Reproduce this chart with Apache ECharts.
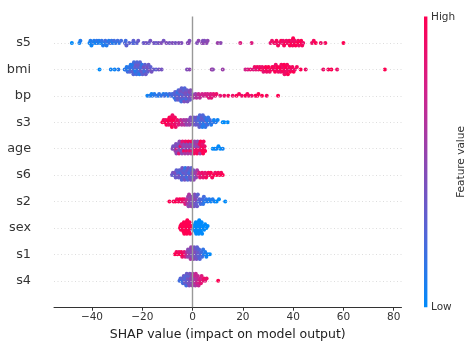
<!DOCTYPE html>
<html>
<head>
<meta charset="utf-8">
<script src="https://cdn.jsdelivr.net/npm/echarts@6/dist/echarts.min.js"></script>
<style>
  html, body { margin: 0; padding: 0; background: #fff; }
  #chart { width: 474px; height: 347px; }
</style>
</head>
<body>
<div id="chart"></div>
<script>
// Features from bottom row to top row
const featureNames = ['s4', 's1', 'sex', 's2', 's6', 'age', 's3', 'bp', 'bmi', 's5'];

// Each entry: [SHAP value, normalised feature value (0 = low, 1 = high)]
const shapS5 = [
  [-48, 0], [-45, 0.05], [-44.6, 0.1],
  [-41, 0.05], [-40.6, 0.1], [-40.2, 0.05], [-39.6, 0.1], [-39.2, 0.1], [-38.6, 0.05], [-38.1, 0.15], [-37.7, 0.1],
  [-37.2, 0.1], [-36.6, 0.05], [-36.1, 0.15], [-35.6, 0.1], [-35.2, 0.1], [-34.7, 0.2], [-34.2, 0.1], [-33.7, 0.15],
  [-33.3, 0.1], [-32.7, 0.2], [-32.2, 0.15], [-31.7, 0.1], [-31.2, 0.2], [-30.6, 0.15], [-29.8, 0.2], [-29.2, 0.15],
  [-28.4, 0.2],
  [-26.9, 0.25], [-26.6, 0.2], [-26.3, 0.3], [-25.2, 0.3], [-23.8, 0.25], [-23.5, 0.3], [-23.2, 0.25], [-22.1, 0.3],
  [-21.6, 0.35],
  [-19.5, 0.35], [-18.5, 0.4], [-17.4, 0.35], [-16.8, 0.4], [-15.4, 0.4], [-14.5, 0.35], [-13.5, 0.4], [-12.4, 0.45],
  [-11.5, 0.4], [-10.4, 0.45], [-9.2, 0.4], [-8, 0.45], [-6.8, 0.4], [-5.5, 0.45], [-4.4, 0.45],
  [-1.9, 0.45], [-1.5, 0.5], [-1.2, 0.45], [1.8, 0.45], [2.4, 0.5], [3.8, 0.5], [4.1, 0.45], [4.4, 0.5], [4.7, 0.45],
  [5.6, 0.5], [6, 0.5], [10, 0.55], [11.2, 0.5], [19, 0.8], [23.5, 0.8],
  [31, 0.85], [31.6, 0.9], [32.5, 0.95], [33, 0.9], [33.4, 0.95], [34, 0.95], [34.4, 0.9], [35.2, 1], [35.6, 0.9],
  [36, 0.9], [36.4, 0.95], [37, 1], [37.3, 0.9], [37.8, 0.9], [38.4, 0.95], [38.7, 1], [39, 1], [39.4, 0.9],
  [39.8, 0.95], [40, 1], [40.3, 0.95], [40.6, 0.9], [41, 1], [41.5, 1], [42, 0.95], [42.3, 0.9], [42.7, 1],
  [43.2, 1], [43.6, 0.95], [44, 0.9],
  [47.5, 0.9], [48.2, 0.95], [49, 1], [51, 0.9], [52.8, 0.95], [60, 1]
];
const shapBmi = [
  [-37, 0], [-32.5, 0.05], [-31, 0.05], [-29.5, 0.1],
  [-27, 0.1], [-26.6, 0.15], [-26.2, 0.1], [-25.8, 0.2], [-25.5, 0.1], [-25.2, 0.15],
  [-24.9, 0.25], [-24.6, 0.1], [-24.4, 0.2], [-24.1, 0.15],
  [-23.9, 0.3], [-23.7, 0.1], [-23.5, 0.25], [-23.3, 0.2], [-23.1, 0.15],
  [-22.9, 0.3], [-22.7, 0.1], [-22.5, 0.35], [-22.3, 0.2], [-22.1, 0.25],
  [-21.9, 0.15], [-21.7, 0.3], [-21.5, 0.2], [-21.3, 0.35], [-21.1, 0.1],
  [-20.9, 0.25], [-20.7, 0.3], [-20.5, 0.2], [-20.3, 0.35], [-20.1, 0.15],
  [-19.9, 0.3], [-19.6, 0.25], [-19.4, 0.4], [-19.1, 0.2],
  [-18.9, 0.3], [-18.6, 0.35], [-18.4, 0.25], [-18.1, 0.4],
  [-17.8, 0.3], [-17.5, 0.35], [-17.2, 0.4], [-16.7, 0.3], [-16.3, 0.4],
  [-15.5, 0.35], [-14.5, 0.3], [-13.4, 0.4], [-12.3, 0.4],
  [-2.2, 0.45], [-1.2, 0.5], [7.6, 0.55], [8.1, 0.5], [12, 0.55],
  [21, 0.75], [22, 0.8], [23, 0.85], [24.2, 0.8], [24.7, 0.9], [25.2, 0.85], [25.7, 0.95], [26.2, 0.85], [26.7, 0.9],
  [27.2, 1], [27.7, 0.9], [28.2, 0.85], [28.7, 0.95], [29.1, 1], [29.5, 0.9], [29.8, 0.95], [30.2, 1], [30.7, 0.9],
  [31.2, 0.95], [31.7, 1], [32.1, 0.9], [32.4, 0.95], [32.8, 1], [33.1, 0.9], [33.4, 0.95], [33.8, 1], [34.1, 0.9],
  [34.4, 0.95], [34.8, 1], [35.1, 0.9], [35.3, 0.95], [35.6, 1], [35.9, 0.9], [36.1, 0.95], [36.4, 1], [36.6, 0.9],
  [36.9, 0.95], [37.1, 1], [37.4, 0.9], [37.6, 0.95], [37.9, 1], [38.2, 0.9], [38.5, 0.95], [38.8, 1], [39.3, 0.9],
  [39.7, 0.95], [40.2, 1], [40.7, 0.9], [41.5, 0.95], [43, 1], [45, 0.9],
  [52, 0.9], [54, 0.95], [55.2, 1], [57.5, 0.9], [76.5, 1]
];
const shapBp = [
  [-18, 0.05], [-17, 0.1], [-16.3, 0.05], [-16, 0.1], [-15.2, 0.1], [-14.5, 0.15], [-13.6, 0.1], [-13.3, 0.15],
  [-12.5, 0.15], [-11.6, 0.1], [-11.2, 0.2], [-10.5, 0.15], [-9.8, 0.1], [-9.2, 0.2], [-8.6, 0.25], [-8.1, 0.2],
  [-7.8, 0.2], [-7.5, 0.25], [-7.2, 0.15],
  [-6.9, 0.3], [-6.7, 0.2], [-6.5, 0.35], [-6.3, 0.25], [-6.1, 0.3],
  [-5.9, 0.15], [-5.75, 0.35], [-5.6, 0.25], [-5.4, 0.4], [-5.25, 0.2], [-5.1, 0.3],
  [-4.95, 0.35], [-4.8, 0.25], [-4.65, 0.4], [-4.5, 0.2], [-4.35, 0.3], [-4.2, 0.45], [-4.05, 0.25],
  [-3.9, 0.35], [-3.75, 0.4], [-3.6, 0.2], [-3.45, 0.3], [-3.3, 0.45], [-3.15, 0.25], [-3, 0.35],
  [-2.85, 0.4], [-2.7, 0.3], [-2.5, 0.45], [-2.3, 0.2], [-2.15, 0.35], [-2, 0.4],
  [-1.8, 0.45], [-1.6, 0.3], [-1.4, 0.4], [-1.2, 0.5], [-1, 0.35],
  [-0.8, 0.45], [-0.5, 0.5], [-0.2, 0.4],
  [0.3, 0.55], [0.8, 0.6], [1.2, 0.55], [1.6, 0.65], [2, 0.6], [2.4, 0.7], [2.9, 0.65], [3.3, 0.7], [3.8, 0.75],
  [4.4, 0.7], [5, 0.75], [5.5, 0.8], [6, 0.75], [6.5, 0.8], [6.9, 0.75], [7.2, 0.8], [7.5, 0.85], [7.9, 0.8],
  [8.3, 0.85], [9, 0.85], [9.5, 0.9],
  [11, 0.85], [12.6, 0.9], [14.2, 0.95], [16, 0.9], [17.5, 1], [18.5, 0.95], [19.6, 0.9], [21, 1], [21.8, 0.95],
  [22.3, 0.9], [23.5, 0.9], [25, 1], [25.8, 0.95], [26.2, 1], [27.6, 1], [29.5, 0.95], [34, 1]
];
const shapS3 = [
  [-12, 1], [-11.5, 0.95], [-11, 1], [-10.7, 0.9], [-10.4, 1], [-10.1, 0.95],
  [-9.8, 1], [-9.5, 0.9], [-9.2, 1], [-9, 0.95], [-8.8, 1], [-8.6, 0.9], [-8.4, 0.95], [-8.2, 1], [-8, 0.9],
  [-7.8, 0.95], [-7.5, 1], [-7.2, 0.9], [-7, 0.95], [-6.7, 0.9], [-6.4, 0.85], [-6.1, 0.9], [-5.6, 0.8], [-5.2, 0.85],
  [-4.7, 0.7], [-4.3, 0.65], [-3.8, 0.7], [-3.5, 0.6], [-3.2, 0.65], [-2.8, 0.55], [-2.5, 0.6], [-2.2, 0.5],
  [-1.8, 0.55], [-1.5, 0.5], [-1.2, 0.55], [-0.8, 0.45], [-0.5, 0.5], [-0.2, 0.45],
  [0.2, 0.4], [0.5, 0.35], [0.8, 0.4], [1.1, 0.3], [1.3, 0.35], [1.6, 0.4], [1.8, 0.3],
  [2.1, 0.25], [2.3, 0.35], [2.5, 0.2], [2.7, 0.3], [2.9, 0.25], [3.1, 0.15], [3.3, 0.3], [3.5, 0.2], [3.7, 0.35],
  [3.9, 0.1], [4.1, 0.25], [4.3, 0.15], [4.5, 0.3], [4.7, 0.1], [4.9, 0.2], [5.1, 0.15], [5.4, 0.25], [5.6, 0.1],
  [5.9, 0.2], [6.2, 0.15], [6.6, 0.1], [6.9, 0.2], [7.4, 0.1], [7.9, 0.15], [8.5, 0.05], [9.2, 0.1], [10, 0.05],
  [12, 0], [12.6, 0], [14, 0]
];
const shapAge = [
  [-8, 0.45], [-7.7, 0.4], [-7.3, 0.5], [-7, 0.4], [-6.8, 0.55],
  [-6.6, 0.45], [-6.4, 0.5], [-6.2, 0.8], [-6, 0.45], [-5.8, 0.5],
  [-5.6, 0.4], [-5.4, 0.85], [-5.2, 0.5], [-5, 0.45], [-4.8, 0.9],
  [-4.6, 0.45], [-4.4, 0.6], [-4.2, 0.5], [-4, 0.85], [-3.8, 0.45],
  [-3.6, 0.55], [-3.4, 0.95], [-3.2, 0.5], [-3, 0.6], [-2.8, 0.9],
  [-2.6, 0.45], [-2.4, 0.55], [-2.2, 0.9], [-2, 0.5], [-1.8, 0.6],
  [-1.6, 0.95], [-1.4, 0.5], [-1.2, 0.55], [-1, 0.9], [-0.8, 0.45],
  [-0.6, 0.6], [-0.4, 0.95], [-0.2, 0.5], [0, 0.55], [0.2, 0.9],
  [0.4, 0.5], [0.6, 0.95], [0.8, 0.55], [1, 0.9], [1.2, 0.45],
  [1.4, 0.9], [1.6, 0.6], [1.8, 0.95], [2, 0.5], [2.2, 0.85],
  [2.4, 0.55], [2.6, 0.95], [2.8, 0.9], [3, 0.6], [3.2, 1],
  [3.4, 0.9], [3.6, 0.95], [3.8, 1], [4, 0.85], [4.2, 1],
  [4.4, 0.95], [4.6, 1], [4.8, 0.9], [5, 1],
  [8, 0], [8.8, 0], [9.5, 0.05], [10.3, 0], [11, 0], [12, 0.05]
];
const shapS6 = [
  [-8.2, 0.35], [-7.8, 0.4], [-7.4, 0.3], [-7, 0.45], [-6.7, 0.35],
  [-6.4, 0.3], [-6.1, 0.4], [-5.8, 0.25], [-5.5, 0.35],
  [-5.3, 0.3], [-5.1, 0.45], [-4.9, 0.2], [-4.7, 0.35], [-4.5, 0.3],
  [-4.3, 0.25], [-4.1, 0.4], [-3.9, 0.2], [-3.7, 0.35], [-3.5, 0.3],
  [-3.3, 0.25], [-3.1, 0.4], [-2.9, 0.15], [-2.7, 0.35], [-2.5, 0.3],
  [-2.3, 0.2], [-2.1, 0.35], [-1.9, 0.25], [-1.7, 0.4], [-1.5, 0.3],
  [-1.3, 0.2], [-1.1, 0.35], [-0.9, 0.25], [-0.7, 0.4], [-0.5, 0.3],
  [-0.3, 0.35], [-0.1, 0.45], [0.1, 0.3], [0.3, 0.4], [0.5, 0.5],
  [0.8, 0.45], [1.1, 0.55], [1.4, 0.5], [1.8, 0.6],
  [2.2, 0.75], [2.6, 0.8], [3, 0.85], [3.4, 0.8], [3.8, 0.9], [4.2, 0.85], [4.6, 0.9], [5, 0.85], [5.4, 0.95],
  [5.8, 0.9], [6.3, 0.95], [6.8, 0.9], [7.3, 1], [7.8, 0.95], [8.4, 1], [9, 0.9], [9.6, 1], [10.2, 0.95],
  [10.8, 1], [11.4, 0.95], [12, 1]
];
const shapS2 = [
  [-9.2, 1], [-7.6, 0.95], [-6.8, 1], [-6.2, 0.9], [-5.6, 0.95], [-5.1, 1], [-4.6, 0.9], [-4.1, 0.95], [-3.7, 0.85],
  [-3.3, 0.9], [-2.9, 0.8], [-2.6, 0.75], [-2.3, 0.7],
  [-2, 0.6], [-1.8, 0.55], [-1.6, 0.5], [-1.4, 0.6], [-1.2, 0.5],
  [-1, 0.55], [-0.8, 0.45], [-0.6, 0.5], [-0.4, 0.55], [-0.2, 0.45],
  [0, 0.5], [0.2, 0.45], [0.4, 0.5], [0.6, 0.4], [0.8, 0.45],
  [1, 0.4], [1.2, 0.5], [1.4, 0.35], [1.6, 0.4], [1.8, 0.35],
  [2.1, 0.3], [2.4, 0.25], [2.8, 0.3], [3.2, 0.2], [3.5, 0.25], [3.9, 0.2], [4.2, 0.15], [4.5, 0.2], [4.9, 0.1],
  [5.4, 0.15], [6, 0.1], [6.6, 0.1], [7.3, 0.05], [8, 0.1], [8.8, 0.05], [9.6, 0], [10.5, 0], [13, 0]
];
const shapSex = [
  [-5, 1], [-4.8, 1], [-4.6, 1], [-4.4, 1], [-4.2, 1], [-4.05, 1], [-3.9, 1], [-3.75, 1], [-3.6, 1], [-3.45, 1],
  [-3.3, 1], [-3.15, 1], [-3, 1], [-2.85, 1], [-2.7, 1], [-2.55, 1], [-2.4, 1], [-2.25, 1], [-2.1, 1], [-1.95, 1],
  [-1.8, 1], [-1.65, 1], [-1.5, 1], [-1.35, 1], [-1.2, 1], [-1, 1], [-0.8, 1], [-0.5, 1],
  [0.3, 0], [0.5, 0], [0.7, 0], [0.85, 0], [1, 0], [1.15, 0], [1.3, 0], [1.45, 0], [1.6, 0], [1.75, 0], [1.9, 0],
  [2.05, 0], [2.2, 0], [2.35, 0], [2.5, 0], [2.65, 0], [2.8, 0], [2.95, 0], [3.1, 0], [3.25, 0], [3.4, 0], [3.6, 0],
  [3.8, 0], [4, 0], [4.3, 0], [4.6, 0], [5, 0], [5.5, 0], [6, 0]
];
const shapS1 = [
  [-7, 1], [-6.4, 0.95], [-6, 1], [-5.4, 0.9], [-4.9, 1], [-4.5, 0.95], [-4.1, 0.9], [-3.7, 1], [-3.3, 0.85],
  [-2.9, 0.8], [-2.5, 0.75],
  [-2.2, 0.6], [-2, 0.55], [-1.8, 0.5], [-1.6, 0.6], [-1.4, 0.5],
  [-1.2, 0.5], [-1, 0.45], [-0.8, 0.6], [-0.6, 0.55], [-0.4, 0.45],
  [-0.2, 0.5], [0, 0.45], [0.2, 0.55], [0.4, 0.5], [0.6, 0.4],
  [0.8, 0.45], [1, 0.45], [1.2, 0.4], [1.4, 0.35], [1.6, 0.4],
  [1.8, 0.3], [2, 0.3], [2.2, 0.35], [2.4, 0.3], [2.6, 0.25],
  [2.9, 0.25], [3.2, 0.3], [3.5, 0.2], [3.8, 0.2],
  [4.2, 0.15], [4.6, 0.1], [5, 0.1], [5.5, 0.05], [6, 0.05], [6.9, 0]
];
const shapS4 = [
  [-5.2, 0.2], [-4.8, 0.25], [-4.4, 0.15], [-4.1, 0.3], [-3.8, 0.2], [-3.5, 0.35], [-3.3, 0.3], [-3.1, 0.25],
  [-2.9, 0.35], [-2.7, 0.25], [-2.5, 0.2], [-2.3, 0.35], [-2.1, 0.3], [-1.9, 0.4], [-1.7, 0.4], [-1.5, 0.3],
  [-1.3, 0.45], [-1.1, 0.4], [-0.9, 0.45], [-0.7, 0.5], [-0.5, 0.45], [-0.3, 0.5], [-0.1, 0.55],
  [0.1, 0.6], [0.3, 0.6], [0.5, 0.55], [0.7, 0.65], [0.9, 0.7], [1.1, 0.6], [1.3, 0.7], [1.5, 0.65], [1.7, 0.65],
  [1.9, 0.75], [2.1, 0.7], [2.4, 0.7], [2.7, 0.8], [3, 0.75], [3.3, 0.85], [3.6, 0.8], [4, 0.85], [4.5, 0.9],
  [5, 0.85], [5.6, 0.9], [10.2, 1]
];

const rowsData = [shapS4, shapS1, shapSex, shapS2, shapS6, shapAge, shapS3, shapBp, shapBmi, shapS5];
const xTicks = [-40, -20, 0, 20, 40, 60, 80];
const colorStops = ['#008bfb', '#5266d8', '#8d48b2', '#d3218a', '#ff0052'];

const FONT = 'DejaVu Sans';
const ROW_HEIGHT = 0.4;   // half-band available to a row, in row units
const BIN_WIDTH = 1.2;    // SHAP units per stacking bin
const LAYER_GAP = 0.09;   // vertical step between stacked points, in row units

// Beeswarm layout: points falling in the same bin are stacked alternately
// above and below the row centre; the step shrinks if a stack would overflow.
function swarm(points, row) {
  const vals = points.map(p => p[0]);
  const lo = Math.min(...vals);
  const q = vals.map(v => Math.round((v - lo) / BIN_WIDTH));
  const order = vals.map((_, i) => i).sort((a, b) => (q[a] - q[b]) || (a - b));
  const ys = new Array(vals.length).fill(0);
  let layer = 0, last = -1;
  for (const i of order) {
    if (q[i] !== last) layer = 0;
    ys[i] = Math.ceil(layer / 2) * ((layer % 2) * 2 - 1);
    layer++;
    last = q[i];
  }
  const scale = Math.min(LAYER_GAP, 0.9 * ROW_HEIGHT / Math.max(...ys.map(y => y + 1)));
  return points.map((p, i) => [p[0], row + ys[i] * scale, p[1]]);
}

const scatterData = [];
rowsData.forEach((pts, row) => { swarm(pts, row).forEach(d => scatterData.push(d)); });

const fmt = v => (v < 0 ? '\u2212' + Math.abs(v) : String(v));

const chart = echarts.init(document.getElementById('chart'), null, { renderer: 'canvas' });
chart.setOption({
  animation: false,
  backgroundColor: '#ffffff',
  textStyle: { fontFamily: FONT },
  grid: { left: 54, right: 72.5, top: 16.6, bottom: 39.8, containLabel: false },
  xAxis: {
    type: 'value',
    min: -55.1,
    max: 83.1,
    name: 'SHAP value (impact on model output)',
    nameLocation: 'middle',
    nameGap: 19,
    nameTextStyle: { fontFamily: FONT, fontSize: 12.5, color: '#222' },
    axisLine: { show: true, onZero: false, lineStyle: { color: '#333', width: 1 } },
    axisTick: { show: true, length: 3.5, customValues: xTicks, lineStyle: { color: '#333' } },
    axisLabel: { customValues: xTicks, formatter: fmt, margin: 5, fontFamily: FONT, fontSize: 10.5, color: '#333' },
    splitLine: { show: false }
  },
  yAxis: {
    type: 'value',
    min: -1,
    max: featureNames.length,
    interval: 1,
    axisLine: { show: false },
    axisTick: { show: false },
    splitLine: { show: false },
    axisLabel: {
      margin: 23,
      fontFamily: FONT,
      fontSize: 12.8,
      color: '#333',
      formatter: v => (v >= 0 && v < featureNames.length ? featureNames[v] : '')
    }
  },
  visualMap: {
    type: 'continuous',
    show: false,
    dimension: 2,
    min: 0,
    max: 1,
    seriesIndex: 1,
    inRange: { color: colorStops }
  },
  series: [
    {
      // reference lines: zero line and dotted row guides
      type: 'line',
      data: [],
      z: 1,
      silent: true,
      markLine: {
        silent: true,
        symbol: 'none',
        label: { show: false },
        data: [
          { xAxis: 0, lineStyle: { color: '#999', width: 1.4, type: 'solid' } },
          ...featureNames.map((_, i) => ({ yAxis: i, lineStyle: { color: '#d4d4d4', width: 0.8, type: [1, 2.5] } }))
        ]
      }
    },
    {
      type: 'scatter',
      z: 3,
      symbolSize: 4,
      itemStyle: { opacity: 1 },
      data: scatterData
    }
  ],
  graphic: [
    {
      type: 'rect',
      shape: { x: 424, y: 16.6, width: 3.4, height: 290.6 },
      style: {
        fill: new echarts.graphic.LinearGradient(0, 0, 0, 1, [
          { offset: 0, color: colorStops[4] },
          { offset: 0.25, color: colorStops[3] },
          { offset: 0.5, color: colorStops[2] },
          { offset: 0.75, color: colorStops[1] },
          { offset: 1, color: colorStops[0] }
        ])
      }
    },
    { type: 'text', x: 431, y: 17, style: { text: 'High', fontFamily: FONT, fontSize: 10.5, fill: '#333', verticalAlign: 'middle' } },
    { type: 'text', x: 431, y: 307, style: { text: 'Low', fontFamily: FONT, fontSize: 10.5, fill: '#333', verticalAlign: 'middle' } },
    {
      type: 'text', x: 461, y: 162, rotation: Math.PI / 2,
      style: { text: 'Feature value', fontFamily: FONT, fontSize: 10.5, fill: '#333', align: 'center', verticalAlign: 'middle' }
    }
  ]
});
</script>
</body>
</html>
